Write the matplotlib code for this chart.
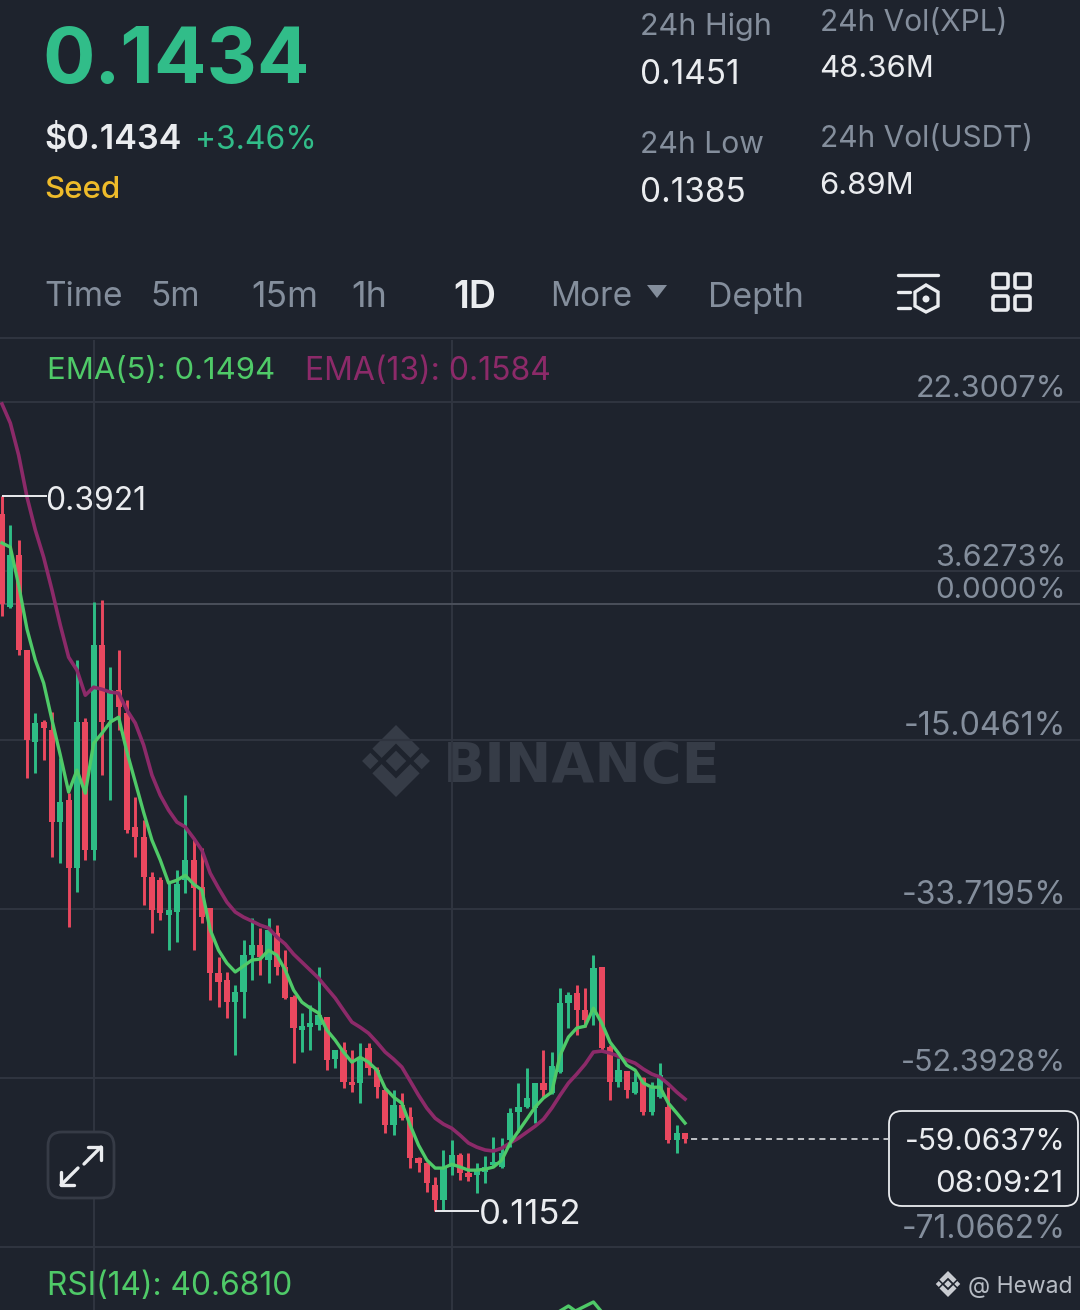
import matplotlib
matplotlib.use("Agg")
import matplotlib.pyplot as plt
from matplotlib.patches import FancyBboxPatch, Polygon, Circle

plt.rcParams['font.family'] = ['Inter', 'DejaVu Sans']

opens = [.3851,.3491,.3692,.3324,.2968,.3046,.3015,.2659,.2744,.2481,.3046,.2550,.3344,.3054,.3170,.3081,.2640,.2601,.2446,.2434,
         .2299,.2311,.2434,.2512,.2407,.2326,.2075,.2047,.1962,.2001,.2144,.2183,.2125,.2229,.2098,.1982,.1854,.1865,.1873,.1904,
         .1742,.1776,.1653,.1649,.1784,.1699,.1622,.1486,.1564,.1517,.1358,.1339,.1254,.1196,.1324,.1370,.1301,.1293,.1304,.1331,
         .1324,.1429,.1536,.1556,.1552,.1649,.1610,.1691,.1958,.1997,.1931,.1912,.2098,.1788,.1653,.1695,.1610,.1668,.1536,.1595,
         .1556,.1429,.1455]
closes = [.3503,.3692,.3324,.2976,.3042,.3023,.2659,.2736,.2481,.3046,.2550,.3344,.3046,.3170,.3104,.2628,.2601,.2446,.2318,.2307,
          .2318,.2419,.2512,.2403,.2291,.2075,.2040,.1962,.2001,.2144,.2183,.2136,.2241,.2098,.1978,.1862,.1869,.1881,.1912,.1738,
          .1776,.1653,.1641,.1749,.1707,.1633,.1486,.1564,.1513,.1358,.1339,.1262,.1196,.1324,.1370,.1301,.1285,.1312,.1324,.1343,
          .1378,.1533,.1556,.1591,.1649,.1622,.1715,.1958,.1989,.1931,.1893,.2094,.1784,.1653,.1699,.1622,.1653,.1536,.1629,.1680,
          .1429,.1455,.1434]
highs = [.3921,.3808,.3750,.3324,.3081,.3054,.3085,.2907,.2771,.3286,.3061,.3510,.3518,.3259,.3324,.3131,.2755,.2667,.2465,.2446,
         .2423,.2473,.2763,.2597,.2558,.2326,.2136,.2079,.2028,.2202,.2287,.2249,.2287,.2260,.2163,.1989,.1920,.1951,.2098,.1904,
         .1776,.1807,.1776,.1804,.1804,.1711,.1629,.1622,.1610,.1556,.1362,.1343,.1285,.1390,.1429,.1378,.1378,.1339,.1366,.1440,
         .1436,.1552,.1649,.1707,.1649,.1776,.1769,.2016,.2001,.2028,.2016,.2144,.2098,.1796,.1746,.1695,.1691,.1672,.1653,.1726,
         .1633,.1486,.1455]
lows = [.3456,.3487,.3305,.2829,.2848,.2899,.2523,.2500,.2253,.2388,.2512,.2512,.2841,.2744,.3015,.2616,.2523,.2338,.2229,.2279,
        .2163,.2194,.2384,.2163,.2268,.1970,.1943,.1900,.1757,.1900,.2047,.2067,.2036,.2067,.1974,.1726,.1769,.1776,.1854,.1699,
        .1707,.1629,.1614,.1571,.1680,.1591,.1455,.1447,.1505,.1320,.1304,.1227,.1152,.1157,.1293,.1273,.1270,.1223,.1262,.1324,
        .1320,.1401,.1459,.1552,.1494,.1591,.1606,.1687,.1862,.1835,.1865,.1873,.1776,.1583,.1633,.1591,.1606,.1525,.1525,.1591,
        .1417,.1378,.1417]
ema13 = [.4277,.4203,.4079,.3917,.3789,.3684,.3557,.3421,.3297,.3247,.3150,.3181,.3173,.3162,.3158,.3092,.3042,.2957,.2841,.2763,
         .2705,.2659,.2640,.2597,.2550,.2461,.2403,.2349,.2311,.2291,.2276,.2260,.2249,.2214,.2187,.2148,.2117,.2086,.2055,.2016,
         .1978,.1931,.1885,.1865,.1842,.1807,.1769,.1742,.1711,.1657,.1602,.1552,.1513,.1490,.1474,.1447,.1417,.1401,.1390,.1386,
         .1397,.1417,.1436,.1459,.1482,.1509,.1552,.1602,.1649,.1684,.1722,.1769,.1773,.1765,.1753,.1738,.1726,.1703,.1684,.1672,
         .1645,.1614,.1587]
ema5 = [.3739,.3723,.3576,.3406,.3286,.3197,.3054,.2918,.2775,.2860,.2771,.2964,.3003,.3046,.3065,.2930,.2814,.2697,.2589,.2512,
        .2423,.2434,.2453,.2419,.2396,.2241,.2163,.2113,.2079,.2102,.2125,.2129,.2163,.2144,.2086,.2009,.1962,.1939,.1920,.1854,
        .1815,.1769,.1730,.1749,.1730,.1699,.1629,.1595,.1571,.1486,.1409,.1351,.1320,.1320,.1335,.1324,.1312,.1312,.1316,.1324,
        .1351,.1417,.1463,.1509,.1556,.1591,.1614,.1757,.1827,.1862,.1869,.1939,.1881,.1807,.1765,.1718,.1699,.1649,.1633,.1633,
        .1571,.1533,.1494]
rsi_index = [67, 68, 69, 70, 71, 72]
rsi_values = [61, 66, 60, 61, 70, 60]

base_price = 0.3503
pct_levels = [22.3007, 3.6273, -15.0461, -33.7195, -52.3928, -71.0662]
pct_labels = ['22.3007%', '3.6273%', '-15.0461%', '-33.7195%', '-52.3928%', '-71.0662%']
zero_label = '0.0000%'
grid_x = [11, 54]

BG = '#1e232d'
GRID = '#2f343f'
RED = '#e9485f'
GREEN = '#2ebd85'
E5 = '#4fca68'
E13 = '#8c2a69'
GREY = '#848e9c'
LIGHT = '#eaecef'

W, H = 1080, 1310
fig = plt.figure(figsize=(W/100, H/100), dpi=100, facecolor=BG)

def px_axes(z):
    a = fig.add_axes([0, 0, 1, 1], zorder=z)
    a.set_xlim(0, W); a.set_ylim(H, 0); a.axis('off'); a.patch.set_alpha(0)
    return a

under = px_axes(0)
ui = px_axes(3)

# ---- chart axes (pixel rows 340..1310) ----
PX_PER_BAR = 8.33
PRICE_PER_PX = 0.000387
def p2y(px):
    return base_price - (px - 604) * PRICE_PER_PX
chart = fig.add_axes([0, 0, 1, (H-340)/H], zorder=1)
chart.patch.set_alpha(0)
chart.set_xlim(-2/PX_PER_BAR, (W-2)/PX_PER_BAR)
chart.set_ylim(p2y(1310), p2y(340))
for s in chart.spines.values():
    s.set_visible(False)
chart.set_xticks(grid_x)
chart.set_yticks([base_price*(1+p/100) for p in pct_levels])
chart.tick_params(length=0, labelbottom=False, labelleft=False)
chart.grid(True, color=GRID, lw=1.5)
chart.set_axisbelow(True)
chart.axhline(base_price, color='#4b505b', lw=1.4, zorder=1)

idx = list(range(len(opens)))
cols = [GREEN if c >= o else RED for o, c in zip(opens, closes)]
chart.vlines(idx, lows, highs, colors=cols, lw=2.1, zorder=2)
chart.bar(idx, [max(abs(c-o), 0.0012) for o, c in zip(opens, closes)],
          bottom=[min(o, c) for o, c in zip(opens, closes)],
          width=0.74, color=cols, lw=0, zorder=2.1)
chart.plot(idx, ema13, color=E13, lw=2.6, zorder=3, solid_joinstyle='round')
chart.plot(idx, ema5, color=E5, lw=2.4, zorder=3.1, solid_joinstyle='round')

# high / low leaders
hi = highs.index(max(highs)); lo = lows.index(min(lows))
chart.hlines(max(highs), hi, hi+5.4, color=LIGHT, lw=1.4, zorder=4)
chart.hlines(min(lows), lo, lo+5.3, color=LIGHT, lw=1.4, zorder=4)
chart.hlines(closes[-1], idx[-1]+0.7, (888-2)/PX_PER_BAR, color=LIGHT, lw=1.1,
             linestyles=(0, (4, 3)), zorder=4)

# RSI pane
rsi = fig.add_axes([0, 0, 1, 60/H], zorder=1)
rsi.set_xlim(chart.get_xlim()); rsi.set_ylim(62, 122); rsi.axis('off'); rsi.patch.set_alpha(0)
rsi.plot(rsi_index, rsi_values, color=E5, lw=2.4)

# ---- watermark ----
def logo(a, cx, cy, r, color, z=1):
    s = r/35
    def P(pts):
        a.add_patch(Polygon([(cx+x*s, cy+y*s) for x, y in pts], closed=True, color=color, lw=0, zorder=z))
    P([(0,-10),(10,0),(0,10),(-10,0)])
    P([(-25,-8),(-17,0),(-25,8),(-33,0)])
    P([(25,-8),(33,0),(25,8),(17,0)])
    P([(0,-35),(23,-12),(14,-3),(0,-17),(-14,-3),(-23,-12)])
    P([(0,35),(23,12),(14,3),(0,17),(-14,3),(-23,12)])
logo(under, 396, 761, 36, '#363c47')
under.text(443, 761, 'BINANCE', fontsize=40, fontweight='bold', color='#363c47', va='center_baseline',
           ha='left', family='DejaVu Sans')

# ---- header ----
def T(x, y, s, size, color, ha='left', weight='normal', a=ui):
    a.text(x, y, s, fontsize=size, color=color, ha=ha, va='center_baseline', fontweight=weight)

T(42, 55, '0.1434', 56, '#31bd89', weight='bold')
T(44, 137, '$0.1434', 24.6, LIGHT, weight='semibold')
T(195, 137, '+3.46%', 23, '#31bd89')
T(44, 187, 'Seed', 22.5, '#eebb2a', weight='medium')
T(640, 24, '24h High', 22, GREY)
T(640, 71, '0.1451', 24, LIGHT)
T(640, 142, '24h Low', 21.7, GREY)
T(640, 189, '0.1385', 24, LIGHT)
T(820, 20, '24h Vol(XPL)', 21.5, GREY)
T(819, 66, '48.36M', 22.4, LIGHT)
T(820, 136, '24h Vol(USDT)', 21.5, GREY)
T(819, 183, '6.89M', 22.4, LIGHT)

for x, s, z in [(44, 'Time', 24), (150, '5m', 24), (251, '15m', 25.5), (351, '1h', 26), (550, 'More', 24), (708, 'Depth', 24.3)]:
    T(x, 294, s, z, GREY)
T(453, 294, '1D', 27, LIGHT, weight='semibold')
ui.add_patch(Polygon([(647, 285), (667, 285), (657, 298)], color=GREY, lw=0))
ui.plot([0, W], [338, 338], color=GRID, lw=1.5)

# filter icon
ui.plot([898, 938], [275, 275], color=LIGHT, lw=2.4, solid_capstyle='round')
ui.plot([898, 910], [292, 292], color=LIGHT, lw=2.4, solid_capstyle='round')
ui.plot([898, 910], [308, 308], color=LIGHT, lw=2.4, solid_capstyle='round')
ui.add_patch(Polygon([(926, 285), (938, 292), (938, 306), (926, 312), (915, 306), (915, 292)],
                     closed=True, fill=False, ec=LIGHT, lw=2.4))
ui.add_patch(Circle((926, 299), 3.5, color=LIGHT, lw=0))
# grid icon
for x0 in (992, 1014):
    for y0 in (273, 295):
        ui.add_patch(FancyBboxPatch((x0+1, y0+1), 15, 14, boxstyle='round,pad=0,rounding_size=2',
                                    fill=False, ec=LIGHT, lw=2.6))

# legends
T(47, 368, 'EMA(5): 0.1494', 22.4, E5)
T(305, 368, 'EMA(13): 0.1584', 23, E13)
T(47, 1283, 'RSI(14): 40.6810', 22.8, E5)

# axis labels
for s, y, z in zip(pct_labels, [386, 555, 723, 892, 1060, 1226], [22, 22, 23.2, 23, 22, 22.8]):
    T(1066, y, s, z, GREY, ha='right')
T(1066, 587, zero_label, 21.3, GREY, ha='right')
T(45, 498, '0.3921', 23, LIGHT)
T(479, 1211, '0.1152', 25, LIGHT)

# current price tag
ui.add_patch(FancyBboxPatch((889, 1111), 189, 95, boxstyle='round,pad=0,rounding_size=13',
                            fc=BG, ec=LIGHT, lw=1.3))
T(1066, 1139, '-59.0637%', 21.5, LIGHT, ha='right')
T(1063, 1181, '08:09:21', 22.5, LIGHT, ha='right')

# expand button
ui.add_patch(FancyBboxPatch((48, 1132), 66, 66, boxstyle='round,pad=0,rounding_size=14',
                            fc=BG, ec='#363b46', lw=2))
for (x1, y1, x2, y2) in [(84, 1164, 101, 1147), (78, 1168, 61, 1185)]:
    ui.plot([x1, x2], [y1, y2], color=LIGHT, lw=2.4, solid_capstyle='round')
    sx = 1 if x2 > x1 else -1
    sy = -sx
    ui.plot([x2-sx*13, x2, x2], [y2, y2, y2-sy*13], color=LIGHT, lw=2.4, solid_capstyle='round')

# credit
logo(ui, 948, 1284, 13, '#c9ccd1', z=4)
T(968, 1284, '@ Hewad', 16.5, '#b7bcc4')

fig.savefig('out.png', dpi=100, facecolor=BG)
